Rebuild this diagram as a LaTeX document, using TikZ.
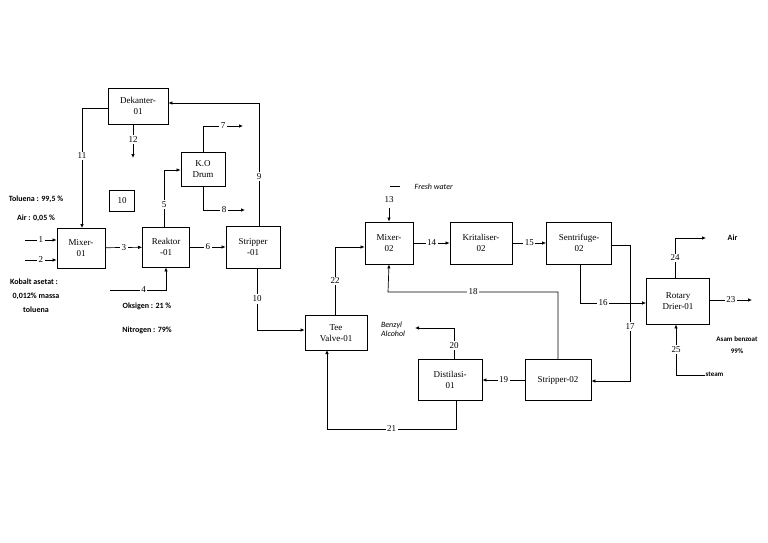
\documentclass[tikz,border=0pt]{standalone}
\usepackage{fontspec}
\setmainfont{Liberation Serif}
\newfontfamily\lblfont{Carlito}
\usetikzlibrary{positioning,arrows.meta}
\begin{document}
\begin{tikzpicture}[x=1pt,y=-1pt,line width=0.7pt,
    unit/.style={draw,thick,align=center,inner sep=0pt,font=\small},
    num/.style={fill=white,inner sep=1.5pt,font=\small},
    note/.style={font=\lblfont\bfseries\footnotesize,align=center},
    inote/.style={font=\lblfont\itshape\footnotesize,align=left},
    flow/.style={-{Latex[length=4pt,width=3.5pt]}}]
      \useasboundingbox (0,0) rectangle (768,543);

      % units
      \node[unit,minimum width=60pt,minimum height=36pt] (dek) at (138,106){Dekanter-\\01};
      \node[unit,minimum width=44pt,minimum height=34pt] (ko) at (203,169){K.O\\Drum};
      \node[unit,minimum width=25pt,minimum height=21pt] (box10) at (122,201){10};
      \node[unit,minimum width=48pt,minimum height=40pt] (mix1) at (81,248){Mixer-\\01};
      \node[unit,minimum width=47pt,minimum height=40pt] (rea) at (166,247){Reaktor\\-01};
      \node[unit,minimum width=54pt,minimum height=42pt] (str1) at (253,247){Stripper\\-01};
      \node[unit,minimum width=48pt,minimum height=42pt] (mix2) at (389,243){Mixer-\\02};
      \node[unit,minimum width=62pt,minimum height=42pt] (kri) at (481,243){Kritaliser-\\02};
      \node[unit,minimum width=65pt,minimum height=42pt] (sen) at (579,243){Sentrifuge-\\02};
      \node[unit,minimum width=63pt,minimum height=46pt] (rot) at (678,301){Rotary\\Drier-01};
      \node[unit,minimum width=62pt,minimum height=35pt] (tee) at (336,333){Tee\\Valve-01};
      \node[unit,minimum width=64pt,minimum height=41pt] (dis) at (450,380){Distilasi-\\01};
      \node[unit,minimum width=66pt,minimum height=41pt] (str2) at (558,380){Stripper-02};

      % free ends
      \coordinate (in1) at (25,240);
      \coordinate (in2) at (25,260);
      \coordinate (in4) at (110,290);
      \coordinate (out7) at (243,126);
      \coordinate (out8) at (245,210);
      \coordinate (out12) at (133,158);
      \coordinate (in13) at (389,208);
      \coordinate (fwa) at (390,186);
      \coordinate (fwb) at (400,186);
      \coordinate (out20) at (415,328);
      \coordinate (out23) at (752,300);
      \coordinate (out24) at (706,238);
      \coordinate (in25) at (705,375);

      % notes
      \node[note] at (36,199) {Toluena : 99,5 \%};
      \node[note] at (36,218) {Air : 0,05 \%};
      \node[note] at (34,282) {Kobalt asetat :};
      \node[note] at (36,296) {0,012\% massa};
      \node[note] at (36,310) {toluena};
      \node[note] at (147,306) {Oksigen : 21 \%};
      \node[note] at (147,330) {Nitrogen : 79\%};
      \node[inote,anchor=west] at (411,187) {Fresh water};
      \node[inote] at (393,329) {Benzyl\\Alcohol};
      \node[note,font=\lblfont\bfseries\scriptsize] at (737,339) {Asam benzoat};
      \node[note,font=\lblfont\bfseries\scriptsize] at (737,351) {99\%};
      \node[note,anchor=west] at (724,238) {Air};
      \node[note,anchor=west,font=\lblfont\bfseries\scriptsize] at (702,374) {steam};

      % streams
      \draw[flow] (in1) -- node[num]{1} (in1 -| mix1.west);
      \draw[flow] (in2) -- node[num]{2} (in2 -| mix1.west);
      \draw[flow] (mix1) -- node[num]{3} (rea);
      \draw[flow] (in4) -- node[num,pos=0.6]{4} (in4 -| rea) -- (rea.south);
      \draw[flow] (164,227) -- node[num,pos=0.4]{5} (164,170) -- (ko.west |- 0,170);
      \draw[flow] (rea) -- node[num]{6} (str1);
      \draw[flow] (ko.north) -- (203,126) -- node[num]{7} (out7);
      \draw[flow] (ko.south) -- (203,210) -- node[num]{8} (out8);
      \draw[flow] (259,226) -- node[num,pos=0.4]{9} (259,103) -- (dek.east |- 0,103);
      \draw[flow] (257,268) -- node[num,pos=0.5]{10} (257,330) -- (tee.west |- 0,330);
      \draw[flow] (dek.west |- 0,108) -- (82,108) -- node[num,pos=0.4]{11} (82,228);
      \draw[flow] (dek.south -| out12) -- node[num,pos=0.45]{12} (out12);
      \draw (fwa) -- (fwb);
      \node[num] (lbl13) at (389,200) {13};
      \draw[flow] (in13) -- (mix2.north);
      \draw[flow] (mix2) -- node[num]{14} (kri);
      \draw[flow] (kri) -- node[num]{15} (sen);
      \draw[flow] (580,264) -- (580,303) -- node[num,pos=0.35]{16} (rot.west |- 0,303);
      \draw[flow] (sen.east |- 0,245) -- (630,245) -- node[num,pos=0.6]{17} (630,381) -- (str2.east |- 0,381);
      \draw[flow] (558,359) -- (558,292) -- node[num]{18} (388,292) -- (mix2.south);
      \draw[flow] (str2) -- node[num]{19} (dis);
      \draw[flow] (454,359) -- node[num,pos=0.45]{20} (454,328) -- (out20);
      \draw[flow] (456,400) -- (456,429) -- node[num]{21} (327,429) -- (327,350);
      \draw[flow] (335,315) -- node[num]{22} (335,247) -- (mix2.west |- 0,247);
      \draw[flow] (rot.east |- out23) -- node[num]{23} (out23);
      \draw[flow] (675,278) -- node[num]{24} (675,238) -- (out24);
      \draw[flow] (in25) -- (676,375) -- node[num]{25} (rot.south -| 676,0);
\end{tikzpicture}
\end{document}
